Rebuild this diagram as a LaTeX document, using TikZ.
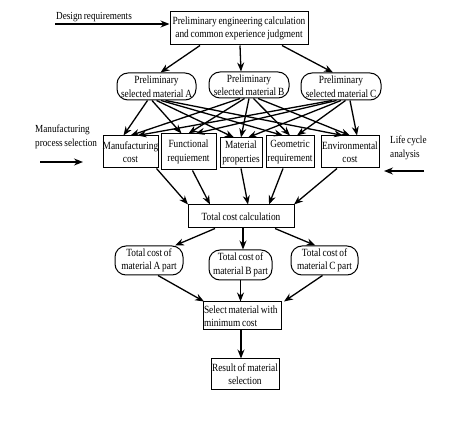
\documentclass[tikz,border=0pt]{standalone}
\usepackage{fontspec}
\setmainfont{Liberation Serif}[FakeStretch=0.85,WordSpace=0.75]
\usetikzlibrary{arrows.meta,calc}
\hbadness=10000 \hfuzz=100pt
\newcommand\cln[1]{\makebox[\linewidth][c]{\spaceskip=0pt\xspaceskip=0pt #1}}
\newcommand\lln[1]{\makebox[\linewidth][l]{\spaceskip=0pt\xspaceskip=0pt #1}}
\tikzset{
  box/.style={draw, line width=1pt, inner xsep=1pt, inner ysep=0pt, align=center, font=\fontsize{11}{13.5}\selectfont},
  pill/.style={box, rounded corners=11pt},
  arr/.style={line width=1.3pt, -{Stealth[length=9pt,width=7pt]}},
  lbl/.style={inner sep=0pt, align=left, font=\fontsize{10.8}{14}\selectfont},
}
\begin{document}
\begin{tikzpicture}[x=1pt,y=-1pt]
\useasboundingbox (0,0) rectangle (474,430);
\node[box, text width=136pt, minimum height=33pt] (top) at (239,28.5) {\cln{Preliminary engineering calculation}\\\cln{and common experience judgment}};
\node[lbl, anchor=south west] (dr) at (56,22) {\spaceskip=0pt Design requirements};
\coordinate (drs) at (55,24);
\draw[arr] (drs) -- (drs -| top.west);

\node[pill, text width=77pt, minimum height=27pt] (A) at (156.5,86.5) {\cln{Preliminary}\\\cln{selected material A}};
\node[pill, text width=78pt, minimum height=26pt] (B) at (249,85) {\cln{Preliminary}\\\cln{selected material B}};
\node[pill, text width=78pt, minimum height=27pt] (C) at (341,86.5) {\cln{Preliminary}\\\cln{selected material C}};
\draw[arr] ($(top.south)+(-39,0)$) -- ($(A.north)+(4,0)$);
\draw[arr] ($(top.south)+(1,0)$) -- ($(B.north)+(-8,0)$);
\draw[arr] ($(top.south)+(43,0)$) -- ($(C.north)+(-8,0)$);

\node[box, text width=53pt, minimum height=32pt] (mc) at (130.5,152) {\cln{Manufacturing}\\\cln{cost}};
\node[box, text width=53pt, minimum height=36pt] (fr) at (188.5,152) {\cln{Functional}\\\cln{requiement}};
\node[box, text width=40pt, minimum height=30pt] (mp) at (241,153) {\cln{Material}\\\cln{properties}};
\node[box, text width=46pt, minimum height=32pt] (gr) at (290,152) {\cln{Geometric}\\\cln{requirement}};
\node[box, text width=56pt, minimum height=32pt] (ec) at (350,152) {\cln{Environmental}\\\cln{cost}};

\foreach \m/\i in {A/-1,B/0,C/1}{
  \foreach \b/\j in {mc/-2,fr/-1,mp/0,gr/1,ec/2}{
    \draw[arr] ($(\m.south)+(\j*4.5,0)$) -- ($(\b.north)+(\i*7,0)$);
  }
}

\node[lbl, anchor=north west] (mps) at (35,125) {\spaceskip=0pt Manufacturing\\process selection};
\coordinate (mpa) at (40,162);
\coordinate (mpb) at (83,162);
\draw[arr] (mpa) -- (mpb);
\node[lbl, anchor=north west] (lca) at (390,136) {\spaceskip=0pt Life cycle\\analysis};
\coordinate (lcs) at (424,171);
\coordinate (lce) at (384,171);
\draw[arr] (lcs) -- (lce);

\node[box, text width=104pt, minimum height=23pt] (tot) at (241,216.5) {\cln{Total cost calculation}};
\draw[arr] ($(mc.south)+(26,0)$) -- ($(tot.north)+(-53,0)$);
\draw[arr] ($(fr.south)+(4,0)$) -- ($(tot.north)+(-31,0)$);
\draw[arr] ($(mp.south)+(0,0)$) -- ($(tot.north)+(7,0)$);
\draw[arr] ($(gr.south)+(-7,0)$) -- ($(tot.north)+(28,0)$);
\draw[arr] ($(ec.south)+(-13,0)$) -- ($(tot.north)+(53,0)$);

\node[pill, text width=66pt, minimum height=29pt] (ta) at (149,260.5) {\cln{Total cost of}\\\cln{material A part}};
\node[pill, text width=61pt, minimum height=30pt] (tb) at (240.5,265) {\cln{Total cost of}\\\cln{material B part}};
\node[pill, text width=65pt, minimum height=29pt] (tc) at (324.5,260.5) {\cln{Total cost of}\\\cln{material C part}};
\draw[arr] ($(tot.south)+(-26,0)$) -- ($(ta.north)+(26,0)$);
\draw[arr] ($(tot.south)+(2,0)$) -- ($(tb.north)+(2.5,0)$);
\draw[arr] ($(tot.south)+(34,0)$) -- ($(tc.north)+(-9,0)$);

\node[box, text width=76pt, minimum height=28pt, align=left] (sel) at (242,316) {\lln{Select material with}\\\lln{minimum cost}};
\draw[arr] ($(ta.south)+(9,0)$) -- ($(sel.north)+(-38,0)$);
\draw[arr] (tb.south) -- ($(sel.north)+(-1.5,0)$);
\draw[arr] ($(tc.south)+(-2,0)$) -- ($(sel.north)+(42,0)$);

\node[box, text width=66pt, minimum height=30pt] (res) at (245,374) {\cln{Result of material}\\\cln{selection}};
\draw[arr] ($(sel.south)+(-1,0)$) -- ($(res.north)+(-4,0)$);
\end{tikzpicture}
\end{document}
